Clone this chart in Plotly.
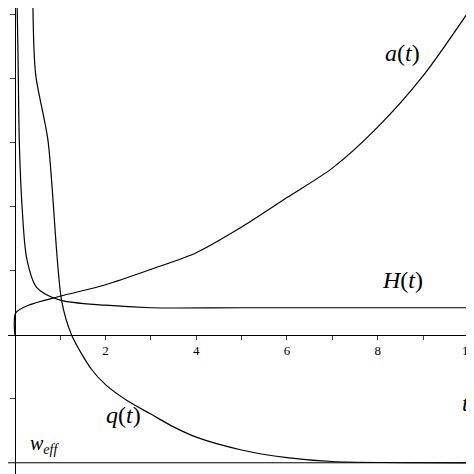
import plotly.graph_objects as go

t_a = [0, 0.02, 0.3, 1, 2, 3, 4, 5, 6, 7, 8, 9, 10]
a_vals = [0.0, 0.17, 0.23, 0.3, 0.39, 0.51, 0.64, 0.84, 1.07, 1.3, 1.62, 2.02, 2.52]

t_h = [0.05, 0.07, 0.1, 0.16, 0.26, 0.48, 1.0, 2.0, 3, 5, 10]
h_vals = [2.6, 2.2, 1.5, 1.0, 0.6, 0.37, 0.27, 0.23, 0.21, 0.21, 0.21]

t_q = [0.4, 0.46, 0.73, 1.03, 1.25, 1.69, 2, 2.5, 3, 3.5, 4, 5, 6, 7, 10]
q_vals = [2.55, 2.03, 1.52, 0.27, 0.0, -0.27, -0.39, -0.52, -0.62, -0.72, -0.8, -0.9, -0.96, -0.99, -1.0]

w_eff = -1.0
x_ticks = [1, 2, 3, 4, 5, 6, 7, 8, 9, 10]
x_labels = ["", "2", "", "4", "", "6", "", "8", "", "10"]
y_ticks = [-1, -0.5, 0.5, 1, 1.5, 2, 2.5]

xr = [-0.15, 10.3]
yr = [-1.15, 2.55]

fig = go.Figure()
line = dict(color="black", width=1.2, shape="spline", smoothing=0.8)
fig.add_trace(go.Scatter(x=t_a, y=a_vals, mode="lines", line=line))
fig.add_trace(go.Scatter(x=t_h, y=h_vals, mode="lines", line=line))
fig.add_trace(go.Scatter(x=t_q, y=q_vals, mode="lines", line=line))
fig.add_trace(go.Scatter(x=xr, y=[w_eff, w_eff], mode="lines", line=dict(color="black", width=1)))

font = dict(family="Liberation Serif", size=24, color="black")
for txt, x, y in [("<i>a</i>(<i>t</i>)", 8.55, 2.2), ("<i>H</i>(<i>t</i>)", 8.55, 0.43),
                  ("<i>q</i>(<i>t</i>)", 2.4, -0.63), ("<i>t</i>", 9.95, -0.53)]:
    fig.add_annotation(x=x, y=y, text=txt, showarrow=False, font=font)
fig.add_annotation(x=0.65, y=-0.86, text="<i>w<sub>eff</sub></i>", showarrow=False,
                   font=dict(family="Liberation Serif", size=20, color="black"))

fig.update_layout(
    width=474, height=474, margin=dict(l=0, r=0, t=0, b=0, autoexpand=False),
    plot_bgcolor="white", paper_bgcolor="white", showlegend=False,
    xaxis=dict(range=xr, showgrid=False, zeroline=False, showline=True, linecolor="black",
               anchor="free", position=(0 - yr[0]) / (yr[1] - yr[0]), automargin=False,
               ticks="outside", ticklen=4, tickvals=x_ticks, ticktext=x_labels,
               tickfont=dict(family="Liberation Serif", size=13, color="black")),
    yaxis=dict(range=yr, showgrid=False, zeroline=False, showline=True, linecolor="black",
               anchor="free", position=(0 - xr[0]) / (xr[1] - xr[0]), automargin=False,
               ticks="outside", ticklen=5, tickvals=y_ticks, showticklabels=False),
)
fig.write_html("out.html")
